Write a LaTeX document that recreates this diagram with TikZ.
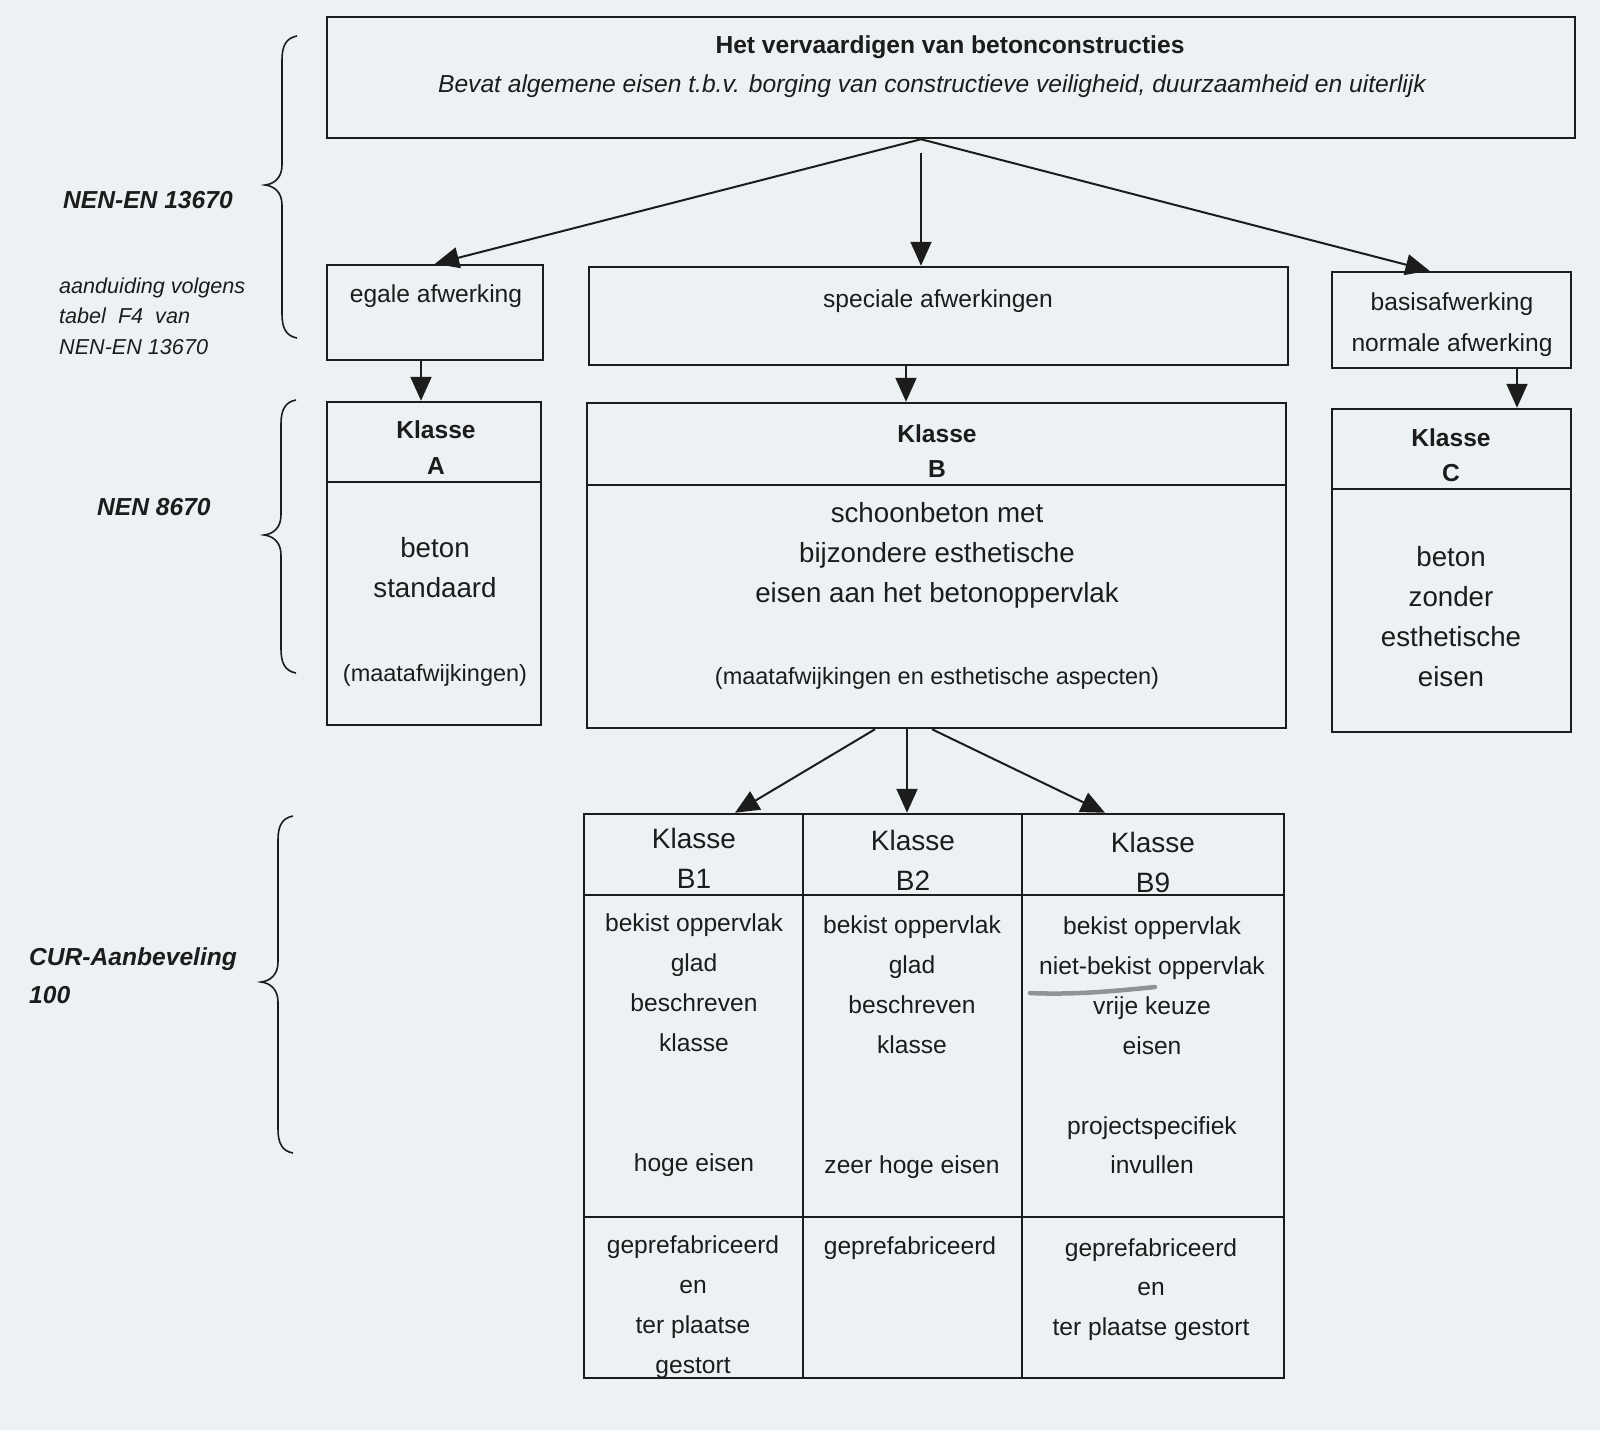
\documentclass[tikz,border=0pt]{standalone}
\usepackage{fontspec}
\setmainfont{Liberation Sans}
\usetikzlibrary{arrows.meta}
\definecolor{paper}{RGB}{236,242,244}
\definecolor{ink}{RGB}{28,28,28}
\newcommand\szA{\fontsize{24.6}{30}\selectfont}
\newcommand\szB{\fontsize{27.7}{34}\selectfont}
\newcommand\szC{\fontsize{28}{34}\selectfont}
\newcommand\szM{\fontsize{23.5}{28}\selectfont}
\newcommand\szS{\fontsize{21.6}{26}\selectfont}
\newcommand\stack[7][]{%
  \foreach \t [count=\i from 0] in {#7}{\node[txt,font=#3,#1] (#2\i) at (#4,#5+#6*\i) {\t};}}
\newcommand\mybrace[4]{%
  \draw[brc] (#1+15,#2) .. controls (#1+4,#2+2) and (#1,#2+10) .. (#1,#2+24)
    -- (#1,#3-20) .. controls (#1,#3-7) and (#1-8,#3-1) .. (#1-17,#3)
    .. controls (#1-8,#3+1) and (#1,#3+7) .. (#1,#3+20)
    -- (#1,#4-24) .. controls (#1,#4-10) and (#1+4,#4-2) .. (#1+15,#4);}
\begin{document}
\begin{tikzpicture}[x=1pt,y=-1pt,
  box/.style={draw=ink, line width=2.5pt, rectangle, inner sep=0pt},
  rule/.style={draw=ink, line width=2.3pt},
  arr/.style={draw=ink, line width=2pt, -{Triangle[length=24pt,width=21pt]}},
  brc/.style={draw=ink, line width=1.6pt},
  txt/.style={inner sep=0pt, text height=0.72em, text depth=0.22em, text=ink, yshift=-6.5pt}]
\fill[paper] (0,0) rectangle (1600,1430);
\useasboundingbox (0,0) rectangle (1600,1430);

% boxes
\node[box, minimum width=1248pt, minimum height=121pt] (top) at (951,77.5) {};
\node[box, minimum width=216pt, minimum height=95pt] (egale) at (435,312.5) {};
\node[box, minimum width=699pt, minimum height=98pt] (spec) at (938.5,316) {};
\node[box, minimum width=239pt, minimum height=96pt] (basis) at (1451.5,320) {};
\node[box, minimum width=214pt, minimum height=323pt] (A) at (434,563.5) {};
\node[box, minimum width=699pt, minimum height=325pt] (B) at (936.5,565.5) {};
\node[box, minimum width=239pt, minimum height=323pt] (C) at (1451.5,570.5) {};
\node[box, minimum width=700pt, minimum height=564pt] (T) at (934,1096) {};

% dividers
\draw[rule] ([yshift=-81pt]A.north west) -- ([yshift=-81pt]A.north east);
\draw[rule] ([yshift=-83pt]B.north west) -- ([yshift=-83pt]B.north east);
\draw[rule] ([yshift=-81pt]C.north west) -- ([yshift=-81pt]C.north east);
\draw[rule] ([xshift=220pt]T.north west) -- ([xshift=220pt]T.south west);
\draw[rule] ([xshift=439pt]T.north west) -- ([xshift=439pt]T.south west);
\draw[rule] ([yshift=-82pt]T.north west) -- ([yshift=-82pt]T.north east);
\draw[rule] ([yshift=-404pt]T.north west) -- ([yshift=-404pt]T.north east);

% arrows
\draw[arr] ([xshift=-30pt]top.south) -- (egale.north);
\draw[arr] ([xshift=-30pt,yshift=-14pt]top.south) -- ([xshift=-17.5pt]spec.north);
\draw[arr] ([xshift=-30pt]top.south) -- ([xshift=-22pt]basis.north);
\draw[arr] ([xshift=-14pt]egale.south) -- ([xshift=-13pt]A.north);
\draw[arr] ([xshift=-32.5pt]spec.south) -- ([xshift=-30.5pt]B.north);
\draw[arr] ([xshift=65.5pt]basis.south) -- ([xshift=65.5pt]C.north);
\draw[arr] ([xshift=-61.5pt]B.south) -- ([xshift=-199pt]T.north);
\draw[arr] ([xshift=-29.5pt]B.south) -- ([xshift=-27pt]T.north);
\draw[arr] ([xshift=-4.5pt]B.south) -- ([xshift=171pt]T.north);

% braces
\mybrace{282}{36}{185}{338}
\mybrace{281}{400}{535}{673}
\mybrace{278}{816}{982}{1153}

% left labels
\node[txt, anchor=west, font=\bfseries\itshape\szA] (l1) at (63,199) {NEN-EN 13670};
\stack[anchor=west]{ls}{\itshape\szS}{59}{284}{30.5}{aanduiding volgens,{tabel\ \ F4\ \ van},NEN-EN 13670}
\node[txt, anchor=west, font=\bfseries\itshape\szA] (l2) at (97,506) {NEN 8670};
\node[txt, anchor=west, font=\bfseries\itshape\szA] (l3) at (29,956) {CUR-Aanbeveling};
\node[txt, anchor=west, font=\bfseries\itshape\szA] (l4) at (29,994) {100};

% top box text
\node[txt, font=\bfseries\szA] (title) at (950,44) {Het vervaardigen van betonconstructies};
\node[txt, font=\itshape\szA] (sub) at (932,83) {Bevat algemene eisen t.b.v. borging van constructieve veiligheid, duurzaamheid en uiterlijk};

% second row
\node[txt, font=\szA] (te) at (436,293) {egale afwerking};
\node[txt, font=\szA] (ts) at (938,298) {speciale afwerkingen};
\node[txt, font=\szA] (tb1) at (1452,301) {basisafwerking};
\node[txt, font=\szA] (tb2) at (1452,342) {normale afwerking};

% Klasse A
\node[txt, font=\bfseries\szA] (ka) at (436,429) {Klasse};
\node[txt, font=\bfseries\szA] (kaa) at (436,465) {A};
\stack{ab}{\szB}{435}{548}{40}{beton,standaard}
\node[txt, font=\szM] (am) at (435,672) {(maatafwijkingen)};

% Klasse B
\node[txt, font=\bfseries\szA] (kb) at (937,433) {Klasse};
\node[txt, font=\bfseries\szA] (kbb) at (937,468) {B};
\stack{bb}{\szB}{937}{513}{40}{schoonbeton met,bijzondere esthetische,eisen aan het betonoppervlak}
\node[txt, font=\szM] (bm) at (937,675) {(maatafwijkingen en esthetische aspecten)};

% Klasse C
\node[txt, font=\bfseries\szA] (kc) at (1451,437) {Klasse};
\node[txt, font=\bfseries\szA] (kcc) at (1451,472) {C};
\stack{cb}{\szB}{1451}{557}{40}{beton,zonder,esthetische,eisen}

% table column B1
\stack{h1}{\szC}{694}{839}{40}{Klasse,B1}
\stack{p1}{\szA}{694}{922}{40}{bekist oppervlak,glad,beschreven,klasse}
\node[txt, font=\szA] (q1) at (694,1162) {hoge eisen};
\stack{r1}{\szA}{693}{1244}{40}{geprefabriceerd,en,ter plaatse,gestort}

% table column B2
\stack{h2}{\szC}{913}{841}{40}{Klasse,B2}
\stack{p2}{\szA}{912}{924}{40}{bekist oppervlak,glad,beschreven,klasse}
\node[txt, font=\szA] (q2) at (912,1164) {zeer hoge eisen};
\node[txt, font=\szA] (r2) at (910,1245) {geprefabriceerd};

% table column B9
\stack{h3}{\szC}{1153}{843}{40}{Klasse,B9}
\stack{p3}{\szA}{1152}{925}{40}{bekist oppervlak,niet-bekist oppervlak,vrije keuze,eisen}
\stack{s3}{\szA}{1152}{1125}{39}{projectspecifiek,invullen}
\stack{r3}{\szA}{1151}{1247}{39.5}{geprefabriceerd,en,ter plaatse gestort}

% pencil mark
\draw[black!55, line width=4.5pt, line cap=round, opacity=0.75]
  (1030,993) .. controls (1075,995) and (1115,991) .. (1155,987);
\end{tikzpicture}
\end{document}
